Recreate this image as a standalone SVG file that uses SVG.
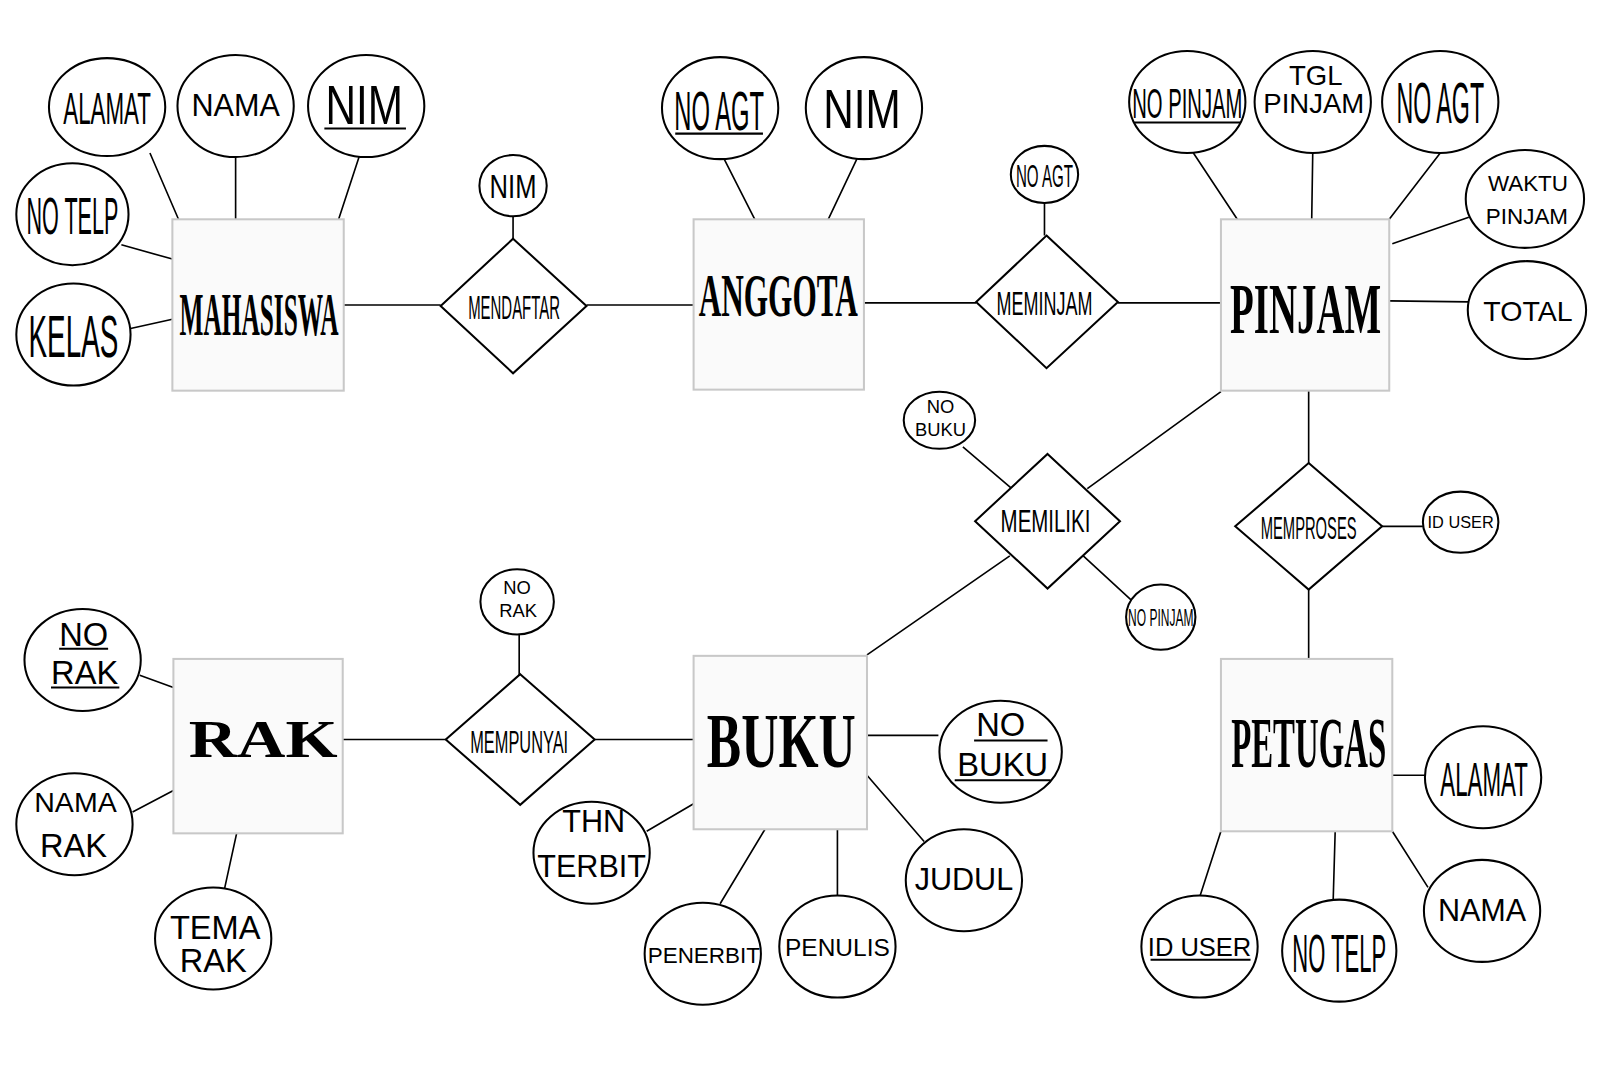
<svg xmlns="http://www.w3.org/2000/svg" width="1600" height="1069" viewBox="0 0 1600 1069">
<style>
.ent{fill:#fafafa;stroke:#c8c8c8;stroke-width:2}
.rel{fill:#fff;stroke:#000;stroke-width:2}
.att{fill:#fff;stroke:#000;stroke-width:2}
.ln{stroke:#000;stroke-width:1.6;fill:none}
.et{font-family:"Liberation Serif",serif;font-weight:bold;fill:#000;text-anchor:middle}
.t{font-family:"Liberation Sans",sans-serif;fill:#000;text-anchor:middle}
.n{font-family:"Liberation Sans Narrow","Liberation Sans",sans-serif;fill:#000;text-anchor:middle}
</style>
<rect width="1600" height="1069" fill="#fff"/>
<g transform="scale(1.02)">
<g id="connectors">
<path class="ln" d="M337 299H432M575 299H680M847 297H957M1096 297H1197"/>
<path class="ln" d="M503 212V234M1024 199V231"/>
<path class="ln" d="M147 150L175 215M231 154V215M352 154L332 215M119 240L169 254M128 322L169 313"/>
<path class="ln" d="M710 156L740 215M840 156L812 215"/>
<path class="ln" d="M1170 150L1213 215M1287 150L1286 215M1412 150L1362 215M1440 213L1365 239M1440 296L1362 295"/>
<path class="ln" d="M1197 384L1066 479M990 545L850 642M944 438L992 479M1062 545L1111 590"/>
<path class="ln" d="M1283 383V454M1283 578V646M1355 516H1395"/>
<path class="ln" d="M336 725H437M583 725H680M509 620V662"/>
<path class="ln" d="M137 662L170 674M130 796L170 775M232 817L220 872"/>
<path class="ln" d="M850 721H920M850 760L906 825M821 813V880M750 813L706 886M680 788L634 815"/>
<path class="ln" d="M1365 760H1398M1365 815L1400 870M1309 815L1307 884M1197 815L1176 880"/>
</g>
<g id="MAHASISWA"><rect class="ent" x="169" y="215" width="168" height="168"/><text class="et" x="254" y="328" font-size="60" textLength="156" lengthAdjust="spacingAndGlyphs">MAHASISWA</text></g>
<g id="ANGGOTA"><rect class="ent" x="680" y="215" width="167" height="167"/><text class="et" x="763" y="310" font-size="60" textLength="156" lengthAdjust="spacingAndGlyphs">ANGGOTA</text></g>
<g id="PINJAM"><rect class="ent" x="1197" y="215" width="165" height="168"/><text class="et" x="1280" y="326" font-size="70" textLength="148" lengthAdjust="spacingAndGlyphs">PINJAM</text></g>
<g id="RAK"><rect class="ent" x="170" y="646" width="166" height="171"/><text class="et" x="258" y="742" font-size="52" textLength="146" lengthAdjust="spacingAndGlyphs">RAK</text></g>
<g id="BUKU"><rect class="ent" x="680" y="643" width="170" height="170"/><text class="et" x="766" y="752" font-size="76" textLength="146" lengthAdjust="spacingAndGlyphs">BUKU</text></g>
<g id="PETUGAS"><rect class="ent" x="1197" y="646" width="168" height="169"/><text class="et" x="1283" y="752" font-size="70" textLength="152" lengthAdjust="spacingAndGlyphs">PETUGAS</text></g>
<g id="MENDAFTAR"><polygon class="rel" points="503,234 575,300 503,366 432,300"/><text class="n" x="504" y="313" font-size="32" textLength="90" lengthAdjust="spacingAndGlyphs">MENDAFTAR</text></g>
<g id="MEMINJAM"><polygon class="rel" points="1026,231 1096,296 1026,361 957,296"/><text class="n" x="1024" y="309" font-size="32" textLength="94" lengthAdjust="spacingAndGlyphs">MEMINJAM</text></g>
<g id="MEMILIKI"><polygon class="rel" points="1027,445 1098,511 1027,577 956,511"/><text class="n" x="1025" y="522" font-size="30" textLength="88" lengthAdjust="spacingAndGlyphs">MEMILIKI</text></g>
<g id="MEMPROSES"><polygon class="rel" points="1283,454 1355,516 1283,578 1211,516"/><text class="n" x="1283" y="528" font-size="30" textLength="94" lengthAdjust="spacingAndGlyphs">MEMPROSES</text></g>
<g id="MEMPUNYAI"><polygon class="rel" points="510,661 583,725 510,789 437,725"/><text class="n" x="509" y="738" font-size="30" textLength="96" lengthAdjust="spacingAndGlyphs">MEMPUNYAI</text></g>
<g id="a-alamat1"><ellipse class="att" cx="105" cy="105" rx="57" ry="48"/><text class="n" x="105" y="122" font-size="44" textLength="86" lengthAdjust="spacingAndGlyphs">ALAMAT</text></g>
<g id="a-nama1"><ellipse class="att" cx="231" cy="104" rx="57" ry="50"/><text class="t" x="231" y="114" font-size="30">NAMA</text></g>
<g id="a-nim1"><ellipse class="att" cx="359" cy="104" rx="57" ry="50"/><text class="n" x="357" y="122" font-size="54" textLength="76" lengthAdjust="spacingAndGlyphs">NIM</text><line x1="318" y1="126" x2="398" y2="126" stroke="#000" stroke-width="2"/></g>
<g id="a-notelp1"><ellipse class="att" cx="71" cy="210" rx="55" ry="50"/><text class="n" x="71" y="229" font-size="50" textLength="90" lengthAdjust="spacingAndGlyphs">NO TELP</text></g>
<g id="a-kelas"><ellipse class="att" cx="72" cy="328" rx="56" ry="50"/><text class="n" x="72" y="350" font-size="58" textLength="88" lengthAdjust="spacingAndGlyphs">KELAS</text></g>
<g id="r-nim"><ellipse class="att" cx="503" cy="182" rx="33" ry="30"/><text class="n" x="503" y="194" font-size="32" textLength="46" lengthAdjust="spacingAndGlyphs">NIM</text></g>
<g id="r-noagt"><ellipse class="att" cx="1024" cy="171" rx="33" ry="28"/><text class="n" x="1024" y="183" font-size="30" textLength="56" lengthAdjust="spacingAndGlyphs">NO AGT</text></g>
<g id="a-noagt1"><ellipse class="att" cx="706" cy="106" rx="57" ry="50"/><text class="n" x="705" y="127" font-size="54" textLength="88" lengthAdjust="spacingAndGlyphs">NO AGT</text><line x1="662" y1="131" x2="748" y2="131" stroke="#000" stroke-width="2"/></g>
<g id="a-nim2"><ellipse class="att" cx="847" cy="106" rx="57" ry="50"/><text class="n" x="845" y="125" font-size="54" textLength="76" lengthAdjust="spacingAndGlyphs">NIM</text></g>
<g id="a-nopinjam"><ellipse class="att" cx="1164" cy="100" rx="57" ry="50" stroke-width="3"/><text class="n" x="1164" y="116" font-size="42" textLength="108" lengthAdjust="spacingAndGlyphs">NO PINJAM</text><line x1="1112" y1="120" x2="1216" y2="120" stroke="#000" stroke-width="2"/></g>
<g id="a-tglpinjam"><ellipse class="att" cx="1287" cy="100" rx="57" ry="50"/><text class="t" x="1290" y="83" font-size="27">TGL</text><text class="t" x="1288" y="111" font-size="27">PINJAM</text></g>
<g id="a-noagt2"><ellipse class="att" cx="1412" cy="100" rx="57" ry="50"/><text class="n" x="1412" y="121" font-size="56" textLength="86" lengthAdjust="spacingAndGlyphs">NO AGT</text></g>
<g id="a-waktu"><ellipse class="att" cx="1495" cy="195" rx="58" ry="48"/><text class="t" x="1498" y="187" font-size="22">WAKTU</text><text class="t" x="1497" y="220" font-size="22">PINJAM</text></g>
<g id="a-total"><ellipse class="att" cx="1497" cy="304" rx="58" ry="48"/><text class="t" x="1498" y="315" font-size="28">TOTAL</text></g>
<g id="r-nobuku"><ellipse class="att" cx="921" cy="412" rx="35" ry="28"/><text class="t" x="922" y="405" font-size="18">NO</text><text class="t" x="922" y="427" font-size="18">BUKU</text></g>
<g id="r-nopinjam"><ellipse class="att" cx="1138" cy="605" rx="34" ry="32"/><text class="n" x="1138" y="614" font-size="24" textLength="64" lengthAdjust="spacingAndGlyphs">NO PINJAM</text></g>
<g id="r-iduser"><ellipse class="att" cx="1432" cy="512" rx="37" ry="30"/><text class="t" x="1432" y="518" font-size="16">ID USER</text></g>
<g id="r-norak"><ellipse class="att" cx="507" cy="590" rx="36" ry="32"/><text class="t" x="507" y="582" font-size="18">NO</text><text class="t" x="508" y="605" font-size="18">RAK</text></g>
<g id="a-norak"><ellipse class="att" cx="81" cy="647" rx="57" ry="50"/><text class="t" x="82" y="633" font-size="32">NO</text><text class="t" x="83" y="671" font-size="32">RAK</text><line x1="58" y1="636" x2="106" y2="636" stroke="#000" stroke-width="2"/><line x1="50" y1="674" x2="117" y2="674" stroke="#000" stroke-width="2"/></g>
<g id="a-namarak"><ellipse class="att" cx="73" cy="808" rx="57" ry="50"/><text class="t" x="74" y="796" font-size="28">NAMA</text><text class="t" x="72" y="840" font-size="32">RAK</text></g>
<g id="a-temarak"><ellipse class="att" cx="209" cy="920" rx="57" ry="50" stroke-width="3.5"/><text class="t" x="211" y="921" font-size="32">TEMA</text><text class="t" x="209" y="953" font-size="32">RAK</text></g>
<g id="a-nobuku"><ellipse class="att" cx="981" cy="737" rx="60" ry="50"/><text class="t" x="981" y="722" font-size="32">NO</text><text class="t" x="983" y="761" font-size="32">BUKU</text><line x1="955" y1="726" x2="1027" y2="726" stroke="#000" stroke-width="2"/><line x1="936" y1="765" x2="1030" y2="765" stroke="#000" stroke-width="2"/></g>
<g id="a-thn"><ellipse class="att" cx="580" cy="836" rx="57" ry="50"/><text class="t" x="582" y="816" font-size="30">THN</text><text class="t" x="580" y="860" font-size="30">TERBIT</text></g>
<g id="a-penerbit"><ellipse class="att" cx="689" cy="935" rx="57" ry="50"/><text class="t" x="690" y="944" font-size="22">PENERBIT</text></g>
<g id="a-penulis"><ellipse class="att" cx="821" cy="928" rx="57" ry="50"/><text class="t" x="821" y="937" font-size="24">PENULIS</text></g>
<g id="a-judul"><ellipse class="att" cx="945" cy="863" rx="57" ry="50"/><text class="t" x="945" y="873" font-size="30">JUDUL</text></g>
<g id="a-alamat2"><ellipse class="att" cx="1454" cy="762" rx="57" ry="50"/><text class="n" x="1455" y="780" font-size="48" textLength="86" lengthAdjust="spacingAndGlyphs">ALAMAT</text></g>
<g id="a-nama2"><ellipse class="att" cx="1453" cy="893" rx="57" ry="50"/><text class="t" x="1453" y="903" font-size="30">NAMA</text></g>
<g id="a-notelp2"><ellipse class="att" cx="1313" cy="932" rx="56" ry="50"/><text class="n" x="1313" y="953" font-size="52" textLength="92" lengthAdjust="spacingAndGlyphs">NO TELP</text></g>
<g id="a-iduser"><ellipse class="att" cx="1176" cy="928" rx="57" ry="50"/><text class="t" x="1176" y="937" font-size="25">ID USER</text><line x1="1128" y1="941" x2="1226" y2="941" stroke="#000" stroke-width="2"/></g>
</g>
</svg>
